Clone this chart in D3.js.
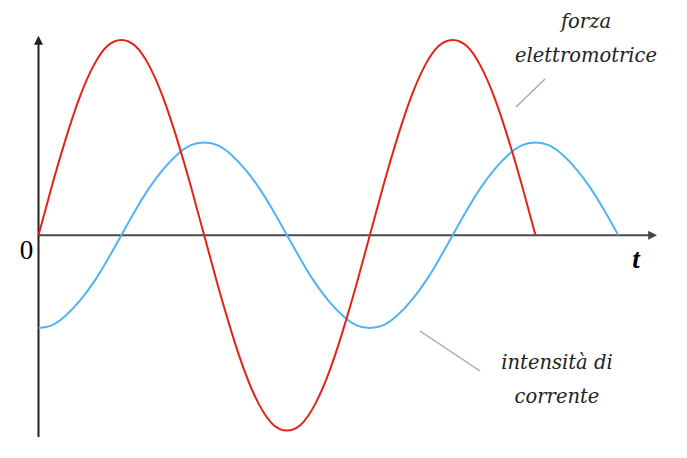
<!DOCTYPE html>
<html>
<head>
<meta charset="utf-8">
<script src="https://cdn.jsdelivr.net/npm/d3@7"></script>
<style>
  body { margin: 0; background: #fff; }
  text { font-family: "Liberation Serif", "DejaVu Serif", serif; }
</style>
</head>
<body>
<svg id="chart"></svg>
<script>
// phase (degrees) of each sample, read every 15 deg along the t axis
const phase = [0, 15, 30, 45, 60, 75, 90, 105, 120, 135, 150, 165, 180,
  195, 210, 225, 240, 255, 270, 285, 300, 315, 330, 345, 360,
  375, 390, 405, 420, 435, 450, 465, 480, 495, 510, 525, 540,
  555, 570, 585, 600, 615, 630];
// forza elettromotrice (red), ends at 540
const emf = [0, 0.26, 0.5, 0.71, 0.87, 0.97, 1, 0.97, 0.87, 0.71, 0.5, 0.26, 0,
  -0.26, -0.5, -0.71, -0.87, -0.97, -1, -0.97, -0.87, -0.71, -0.5, -0.26, 0,
  0.26, 0.5, 0.71, 0.87, 0.97, 1, 0.97, 0.87, 0.71, 0.5, 0.26, 0];
// intensità di corrente (blue), lags by a quarter period
const current = [-0.475, -0.46, -0.41, -0.335, -0.24, -0.125, 0, 0.125, 0.24,
  0.335, 0.41, 0.46, 0.475, 0.46, 0.41, 0.335, 0.24, 0.125, 0, -0.125, -0.24,
  -0.335, -0.41, -0.46, -0.475, -0.46, -0.41, -0.335, -0.24, -0.125, 0, 0.125,
  0.24, 0.335, 0.41, 0.46, 0.475, 0.46, 0.41, 0.335, 0.24, 0.125, 0];

const W = 687, H = 458;
const svg = d3.select("#chart").attr("width", W).attr("height", H);

const x = d3.scaleLinear().domain([0, 540]).range([38.5, 535.5]);
const y = d3.scaleLinear().domain([-1, 1]).range([430.5, 40]);

// arrow heads
const defs = svg.append("defs");
function arrow(id, color) {
  defs.append("marker")
    .attr("id", id)
    .attr("viewBox", "0 0 10 10")
    .attr("refX", 2).attr("refY", 5)
    .attr("markerWidth", 4.5).attr("markerHeight", 4.5)
    .attr("markerUnits", "strokeWidth")
    .attr("orient", "auto")
    .append("path")
    .attr("d", "M0,0 L10,5 L0,10 z")
    .attr("fill", color);
}
arrow("arrX", "#444");
arrow("arrY", "#222");

// axes
svg.append("line")
  .attr("x1", x(0)).attr("x2", 650)
  .attr("y1", y(0)).attr("y2", y(0))
  .attr("stroke", "#4a4a4a").attr("stroke-width", 2)
  .attr("marker-end", "url(#arrX)");

svg.append("line")
  .attr("x1", x(0)).attr("x2", x(0))
  .attr("y1", 437).attr("y2", 43)
  .attr("stroke", "#222").attr("stroke-width", 2)
  .attr("marker-end", "url(#arrY)");

const line = d3.line()
  .x((d) => x(d[0]))
  .y((d) => y(d[1]))
  .curve(d3.curveNatural);

svg.append("path")
  .datum(current.map((v, i) => [phase[i], v]))
  .attr("fill", "none")
  .attr("stroke", "#4fb3f7")
  .attr("stroke-width", 2)
  .attr("d", line);

svg.append("path")
  .datum(emf.map((v, i) => [phase[i], v]))
  .attr("fill", "none")
  .attr("stroke", "#e3221b")
  .attr("stroke-width", 2)
  .attr("d", line);

// labels
svg.append("text")
  .attr("x", 26.5).attr("y", 259)
  .attr("text-anchor", "middle")
  .style("font-size", "27px")
  .text("0");

svg.append("text")
  .attr("x", 636).attr("y", 268)
  .attr("text-anchor", "middle")
  .style("font-size", "27px")
  .style("font-style", "italic")
  .style("font-weight", "bold")
  .text("t");

const labelStyle = (sel) => sel
  .attr("text-anchor", "middle")
  .style("font-family", "'DejaVu Serif', serif")
  .style("font-size", "19.5px")
  .style("font-style", "italic")
  .attr("fill", "#222");

svg.append("text").attr("x", 586).attr("y", 28).call(labelStyle).text("forza");
svg.append("text").attr("x", 586).attr("y", 62).call(labelStyle).text("elettromotrice");
svg.append("text").attr("x", 557).attr("y", 369).call(labelStyle).text("intensità di");
svg.append("text").attr("x", 557).attr("y", 403).call(labelStyle).text("corrente");

// pointer lines
svg.append("line")
  .attr("x1", 516).attr("y1", 107).attr("x2", 545).attr("y2", 79)
  .attr("stroke", "#aaa").attr("stroke-width", 1.5);
svg.append("line")
  .attr("x1", 420).attr("y1", 331).attr("x2", 480).attr("y2", 371)
  .attr("stroke", "#aaa").attr("stroke-width", 1.5);
</script>
</body>
</html>
